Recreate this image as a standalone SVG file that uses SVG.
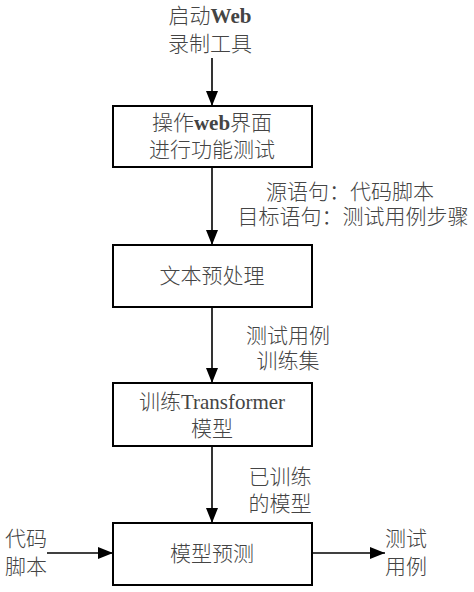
<svg xmlns="http://www.w3.org/2000/svg" width="474" height="592" viewBox="0 0 474 592">
<defs>
<style>
.box{fill:#fff;stroke:#000;stroke-width:2}
.t{font-family:"Liberation Serif","Noto Sans CJK SC",serif;font-size:21px;font-weight:300;fill:#444;text-anchor:middle}
.b{font-weight:bold}
.e{stroke:#000;stroke-width:1.6;fill:none;marker-end:url(#ah)}
</style>
<marker id="ah" markerUnits="userSpaceOnUse" markerWidth="16" markerHeight="14" refX="15" refY="6" orient="auto">
<path d="M0,0 L15,6 L0,12 Z" fill="#000"/>
</marker>
</defs>
<rect width="474" height="592" fill="#fff"/>
<g id="start">
<text class="t" x="210" y="23">启动<tspan class="b">Web</tspan></text>
<text class="t" x="210" y="51">录制工具</text>
</g>
<g id="n1">
<rect class="box" x="113" y="106" width="199" height="61"/>
<text class="t" x="212" y="130">操作<tspan class="b">web</tspan>界面</text>
<text class="t" x="212" y="157">进行功能测试</text>
</g>
<g id="n2">
<rect class="box" x="113" y="245" width="199" height="62"/>
<text class="t" x="212" y="283">文本预处理</text>
</g>
<g id="n3">
<rect class="box" x="113" y="383" width="199" height="63"/>
<text class="t" x="212" y="409">训练Transformer</text>
<text class="t" x="212" y="436">模型</text>
</g>
<g id="n4">
<rect class="box" x="113" y="523" width="199" height="62"/>
<text class="t" x="212" y="561">模型预测</text>
</g>
<g id="in">
<text class="t" x="26" y="546">代码</text>
<text class="t" x="26" y="574">脚本</text>
</g>
<g id="out">
<text class="t" x="406" y="546">测试</text>
<text class="t" x="406" y="574">用例</text>
</g>
<g id="connectors">
<line class="e" x1="212" y1="58" x2="212" y2="106"/>
<line class="e" x1="212" y1="167" x2="212" y2="245"/>
<line class="e" x1="212" y1="307" x2="212" y2="383"/>
<line class="e" x1="212" y1="446" x2="212" y2="523"/>
<line class="e" x1="47" y1="553" x2="113" y2="553"/>
<line class="e" x1="312" y1="553" x2="385" y2="553"/>
</g>
<g id="labels">
<text class="t" x="350" y="199">源语句：代码脚本</text>
<text class="t" x="353" y="224">目标语句：测试用例步骤</text>
<text class="t" x="288" y="343">测试用例</text>
<text class="t" x="288" y="368">训练集</text>
<text class="t" x="280" y="484">已训练</text>
<text class="t" x="280" y="511">的模型</text>
</g>
</svg>
